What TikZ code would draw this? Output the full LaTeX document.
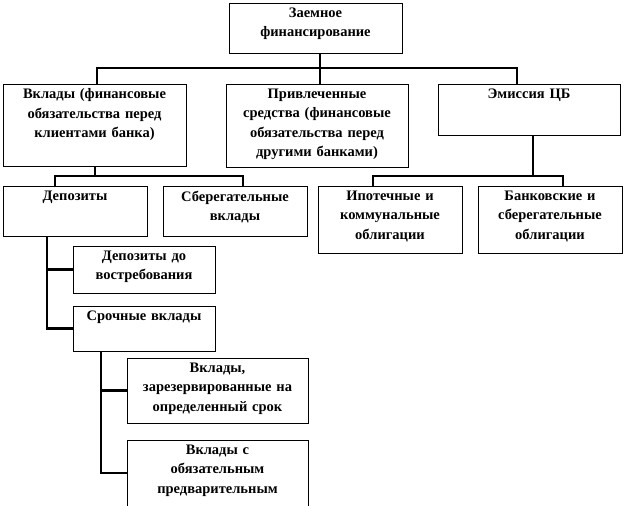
\documentclass[tikz,border=0pt]{standalone}
\usepackage{fontspec}
\setmainfont{Liberation Serif}
\usetikzlibrary{shadows}

\newcommand\blk[6]{% name, x1, y1, x2, y2, text
  \node[blok, minimum width={#4-#2}, minimum height={#5-#3}] (#1) at ({(#2+#4)/2},{(#3+#5)/2}) {};
  \node[lbl, text width={#4-#2-4}] (#1-t) at (#1.north) {#6};
}

\begin{document}
\begin{tikzpicture}[x=1pt,y=-1pt,
  every path/.style={line join=miter},
  blok/.style={draw, fill=white, line width=0.6pt, inner sep=0pt,
    drop shadow={shadow xshift=1pt, shadow yshift=-1pt, fill=black!60, opacity=1}},
  lbl/.style={anchor=north, align=center, inner sep=0pt, yshift=-5pt,
    font=\fontsize{14.5}{19.5}\selectfont\bfseries},
  link/.style={line width=2.5pt}]
\useasboundingbox (0,0) rectangle (625,506);
% boxes
\blk{root}{229}{3}{402}{53}{Заемное\\финансирование}
\blk{vkl}{3}{84}{186}{166}{Вклады (финансовые обязательства перед клиентами банка)}
\blk{priv}{226}{84}{408}{167}{Привлеченные средства (финансовые обязательства перед другими банками)}
\blk{emis}{438}{84}{620}{135}{Эмиссия ЦБ}
\blk{dep}{3}{186}{147}{236}{Депозиты}
\blk{sber}{163}{186}{307}{236}{Сберегательные\\вклады}
\blk{ipot}{318}{186}{462}{253}{Ипотечные и\\коммунальные\\облигации}
\blk{bank}{478}{186}{622}{253}{Банковские и\\сберегательные\\облигации}
\blk{dvos}{73}{246}{215}{293}{Депозиты до\\востребования}
\blk{sroch}{73}{306}{215}{351}{Срочные вклады}
\blk{zarez}{127}{358}{308}{423}{Вклады,\\зарезервированные на\\определенный срок}
\blk{obyaz}{127}{440}{308}{506}{Вклады с\\обязательным\\предварительным}
% connectors
\coordinate (h1) at (320,68);
\draw[link] (root.south -| h1) -- (priv.north -| h1);
\draw[link] (vkl.north -| 97,0) |- (h1) -| (emis.north -| 517,0);
\coordinate (h2) at (95,176);
\draw[link] (vkl.south -| h2) -- (h2);
\draw[link] (dep.north -| 55,0) |- (h2) -| (sber.north -| 243,0);
\coordinate (h3) at (533,176);
\draw[link] (emis.south -| h3) -- (h3);
\draw[link] (ipot.north -| 373,0) |- (h3) -| (bank.north -| 563,0);
\draw[link] (dep.south -| 47,0) |- (sroch.west);
\draw[link] (dep.south -| 47,0) |- (dvos.west);
\draw[link] (sroch.south -| 101,0) |- (obyaz.west);
\draw[link] (sroch.south -| 101,0) |- (zarez.west);
\end{tikzpicture}
\end{document}
